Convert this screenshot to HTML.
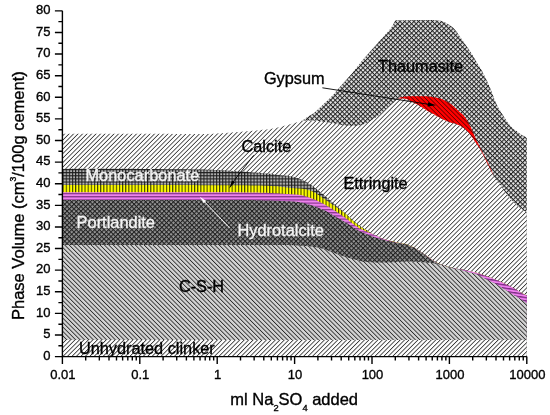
<!DOCTYPE html>
<html><head><meta charset="utf-8"><style>
html,body{margin:0;padding:0;background:#fff;}
svg{display:block;}
text{font-family:"Liberation Sans",Arial,sans-serif;stroke-width:0.35px;paint-order:stroke;}
.k text,text.k{stroke:#000;}
.w text{stroke:#f4f4f4;}
</style></head><body>
<svg width="550" height="415" viewBox="0 0 550 415">
<defs>
<pattern id="pEtt" patternUnits="userSpaceOnUse" width="3.18" height="10" patternTransform="rotate(45)">
 <rect width="3.18" height="10" fill="#fff"/><rect width="0.82" height="10" fill="#353535"/></pattern>
<pattern id="pClk" patternUnits="userSpaceOnUse" width="3.15" height="10" patternTransform="rotate(45)">
 <rect width="3.15" height="10" fill="#fff"/><rect width="0.85" height="10" fill="#333"/></pattern>
<pattern id="pCsh" patternUnits="userSpaceOnUse" width="3.12" height="10" patternTransform="rotate(-45)">
 <rect width="3.12" height="10" fill="#d4d4d4"/><rect width="0.86" height="10" fill="#2a2a2a"/></pattern>
<pattern id="pPort" patternUnits="userSpaceOnUse" width="3.27" height="3.27" patternTransform="rotate(45)">
 <rect width="3.27" height="3.27" fill="#959595"/><rect width="1.05" height="3.27" fill="#202020"/><rect width="3.27" height="1.05" fill="#202020"/></pattern>
<pattern id="pThau" patternUnits="userSpaceOnUse" width="3.27" height="3.27" patternTransform="rotate(45)">
 <rect width="3.27" height="3.27" fill="#e4e4e4"/><rect width="1" height="3.27" fill="#222"/><rect width="3.27" height="1" fill="#222"/></pattern>
<pattern id="pMono" patternUnits="userSpaceOnUse" width="3.13" height="3.13">
 <rect width="3.13" height="3.13" fill="#b0b0b0"/><rect width="1.05" height="3.13" fill="#1e1e1e"/><rect width="3.13" height="1.05" fill="#1e1e1e"/></pattern>
<pattern id="pYel" patternUnits="userSpaceOnUse" width="3.13" height="10">
 <rect width="3.13" height="10" fill="#ffff00"/><rect width="1.1" height="10" fill="#3f3f00"/></pattern>
<pattern id="pPink" patternUnits="userSpaceOnUse" width="10" height="3.2" y="0.95">
 <rect width="10" height="3.2" fill="#ee82ee"/><rect width="10" height="1.2" fill="#84368a"/></pattern>
<pattern id="pGyp" patternUnits="userSpaceOnUse" width="3.12" height="10" patternTransform="rotate(-45)">
 <rect width="3.12" height="10" fill="#ff0000"/><rect width="0.68" height="10" fill="#4a0000"/></pattern>
<pattern id="pPinkR" patternUnits="userSpaceOnUse" width="10" height="3.2" patternTransform="rotate(8)">
 <rect width="10" height="3.2" fill="#f080f0"/><rect width="10" height="1.35" fill="#7a2c80"/></pattern>
</defs>
<path d="M301,356.6L301,121.2C301.67,120.8 303.6,119.7 305,118.8C306.4,117.9 307.82,116.87 309.4,115.8C310.98,114.73 312.5,114 314.5,112.4C316.5,110.8 319.27,108.17 321.4,106.2C323.53,104.23 325.4,102.43 327.3,100.6C329.2,98.77 330.57,97.62 332.8,95.2C335.03,92.78 337.58,89.62 340.7,86.1C343.82,82.58 348.1,78.12 351.5,74.1C354.9,70.08 357.92,65.85 361.1,62C364.28,58.15 367.82,54.18 370.6,51C373.38,47.82 375.87,45.05 377.8,42.9C379.73,40.75 380.75,39.7 382.2,38.1C383.65,36.5 385.07,34.93 386.5,33.3C387.93,31.67 389.6,29.92 390.8,28.3C392,26.68 392.95,24.93 393.7,23.6C394.45,22.27 395.03,20.85 395.3,20.3L395.3,20.3C400.17,20.25 417.2,19.95 424.5,20C431.8,20.05 435.45,20.07 439.1,20.6C442.75,21.13 444.33,22.22 446.4,23.2C448.47,24.18 449.97,25.28 451.5,26.5C453.03,27.72 453.72,28.13 455.6,30.5C457.48,32.87 460.4,37.28 462.8,40.7C465.2,44.12 467.78,47.58 470,51C472.22,54.42 474.05,57.78 476.1,61.2C478.15,64.62 480.42,68.08 482.3,71.5C484.18,74.92 485.88,78.45 487.4,81.7C488.92,84.95 489.85,87.2 491.4,91C492.95,94.8 494.37,99.85 496.7,104.5C499.03,109.15 502.87,115.05 505.4,118.9C507.93,122.75 509.85,125.43 511.9,127.6C513.95,129.77 515.65,130.45 517.7,131.9C519.75,133.35 522.68,135.33 524.2,136.3C525.72,137.27 526.37,137.47 526.8,137.7L526.8,356.6Z" fill="url(#pThau)"/>
<path d="M62.4,356.6L62.4,133.8C77,133.8 127.07,133.77 150,133.8C172.93,133.83 187.5,134.15 200,134C212.5,133.85 216.67,133.38 225,132.9C233.33,132.42 242.5,131.73 250,131.1C257.5,130.47 265,129.77 270,129.1C275,128.43 276.52,127.95 280,127.1C283.48,126.25 287.27,125.03 290.9,124C294.53,122.97 298.17,121.47 301.8,120.9C305.43,120.33 309.07,120.45 312.7,120.6C316.33,120.75 319.97,121.32 323.6,121.8C327.23,122.28 331.27,122.92 334.5,123.5C337.73,124.08 340.27,124.87 343,125.3C345.73,125.73 347.77,126.13 350.9,126.1C354.03,126.07 358.17,126.2 361.8,125.1C365.43,124 369.07,121.78 372.7,119.5C376.33,117.22 380.87,113.6 383.6,111.4C386.33,109.2 387.28,107.9 389.1,106.3C390.92,104.7 392.9,103.08 394.5,101.8C396.1,100.52 396.72,99.08 398.7,98.6C400.68,98.12 404.22,98.4 406.4,98.9C408.58,99.4 409.98,100.65 411.8,101.6C413.62,102.55 415.48,103.58 417.3,104.6C419.12,105.62 420.88,106.6 422.7,107.7C424.52,108.8 426.38,110.15 428.2,111.2C430.02,112.25 431.78,112.98 433.6,114C435.42,115.02 437.28,116.3 439.1,117.3C440.92,118.3 442.68,119.18 444.5,120C446.32,120.82 448.25,121.6 450,122.2C451.75,122.8 453.38,123.03 455,123.6C456.62,124.17 458.2,124.82 459.7,125.6C461.2,126.38 462.75,127.35 464,128.3C465.25,129.25 466.12,130.18 467.2,131.3C468.28,132.42 469.13,133.22 470.5,135C471.87,136.78 473.92,139.83 475.4,142C476.88,144.17 478.22,146.07 479.4,148C480.58,149.93 481.4,151.5 482.5,153.6C483.6,155.7 484.85,158.27 486,160.6C487.15,162.93 488.07,164.95 489.4,167.6C490.73,170.25 492.18,173.58 494,176.5C495.82,179.42 498.2,182.15 500.3,185.1C502.4,188.05 504.2,191.18 506.6,194.2C509,197.22 512.47,200.93 514.7,203.2C516.93,205.47 517.98,206.25 520,207.8C522.02,209.35 525.67,211.72 526.8,212.5L526.8,356.6Z" fill="url(#pEtt)"/>
<path d="M398,98.4L398,98.4C398.67,98.18 400.6,97.42 402,97.1C403.4,96.78 403.85,96.63 406.4,96.5C408.95,96.37 413.67,96.3 417.3,96.3C420.93,96.3 424.57,96.18 428.2,96.5C431.83,96.82 436.38,97.58 439.1,98.2C441.82,98.82 442.68,99.3 444.5,100.2C446.32,101.1 448.25,102.33 450,103.6C451.75,104.87 453.48,106.48 455,107.8C456.52,109.12 457.67,110.22 459.1,111.5C460.53,112.78 462.07,113.65 463.6,115.5C465.13,117.35 466.87,120.12 468.3,122.6C469.73,125.08 471.02,127.83 472.2,130.4C473.38,132.97 474.22,135.43 475.4,138C476.58,140.57 478,143.17 479.3,145.8C480.6,148.43 481.9,151.23 483.2,153.8C484.5,156.37 485.92,158.87 487.1,161.2C488.28,163.53 489.15,165.25 490.3,167.8C491.45,170.35 493.38,175.05 494,176.5L494,176.5C493.23,175.02 490.73,170.25 489.4,167.6C488.07,164.95 487.15,162.93 486,160.6C484.85,158.27 483.6,155.7 482.5,153.6C481.4,151.5 480.58,149.93 479.4,148C478.22,146.07 476.88,144.17 475.4,142C473.92,139.83 471.87,136.78 470.5,135C469.13,133.22 468.28,132.42 467.2,131.3C466.12,130.18 465.25,129.25 464,128.3C462.75,127.35 461.2,126.38 459.7,125.6C458.2,124.82 456.62,124.17 455,123.6C453.38,123.03 451.75,122.8 450,122.2C448.25,121.6 446.32,120.82 444.5,120C442.68,119.18 440.92,118.3 439.1,117.3C437.28,116.3 435.42,115.02 433.6,114C431.78,112.98 430.02,112.25 428.2,111.2C426.38,110.15 424.52,108.8 422.7,107.7C420.88,106.6 419.12,105.62 417.3,104.6C415.48,103.58 413.62,102.55 411.8,101.6C409.98,100.65 408.7,99.43 406.4,98.9C404.1,98.37 399.4,98.48 398,98.4Z" fill="url(#pGyp)"/>
<path d="M62.4,356.6L62.4,168.9C75.33,168.9 117.4,168.82 140,168.9C162.6,168.98 183.5,169.15 198,169.4C212.5,169.65 218.33,169.93 227,170.4C235.67,170.87 242.83,171.63 250,172.2C257.17,172.77 264.33,173.23 270,173.8C275.67,174.37 280,175.07 284,175.6C288,176.13 291,176.3 294,177C297,177.7 299.58,178.77 302,179.8C304.42,180.83 306.4,181.93 308.5,183.2C310.6,184.47 311.97,185.4 314.6,187.4C317.23,189.4 321.08,192.47 324.3,195.2C327.52,197.93 330.53,200.92 333.9,203.8C337.27,206.68 340.98,209.47 344.5,212.5C348.02,215.53 352.08,219.52 355,222C357.92,224.48 360,226.02 362,227.4C364,228.78 365.43,229.32 367,230.3C368.57,231.28 368.85,231.95 371.4,233.3C373.95,234.65 379.2,237.17 382.3,238.4C385.4,239.63 387.28,239.98 390,240.7C392.72,241.42 396.25,242.2 398.6,242.7C400.95,243.2 402.28,243.23 404.1,243.7C405.92,244.17 407.6,244.73 409.5,245.5C411.4,246.27 413.6,247.25 415.5,248.3C417.4,249.35 419.08,250.58 420.9,251.8C422.72,253.02 424.58,254.33 426.4,255.6C428.22,256.87 429.98,258.22 431.8,259.4C433.62,260.58 435.48,261.78 437.3,262.7C439.12,263.62 440.88,264.18 442.7,264.9C444.52,265.62 446.38,266.47 448.2,267C450.02,267.53 451.78,267.75 453.6,268.1C455.42,268.45 456.97,268.72 459.1,269.1C461.23,269.48 463.67,269.83 466.4,270.4C469.13,270.97 472.48,271.7 475.5,272.5C478.52,273.3 481.48,274.13 484.5,275.2C487.52,276.27 490.57,277.68 493.6,278.9C496.63,280.12 499.67,281.13 502.7,282.5C505.73,283.87 508.77,285.43 511.8,287.1C514.83,288.77 518.4,291.08 520.9,292.5C523.4,293.92 525.82,295.08 526.8,295.6L526.8,356.6Z" fill="url(#pMono)"/>
<path d="M62.4,356.6L62.4,185C75.33,185.02 107.73,185 140,185.1C172.27,185.2 231.25,185.17 256,185.6C280.75,186.03 281.17,187.2 288.5,187.7C295.83,188.2 296.92,188.25 300,188.6C303.08,188.95 304.57,189.13 307,189.8C309.43,190.47 311.72,191.07 314.6,192.6C317.48,194.13 321.08,196.85 324.3,199C327.52,201.15 330.53,203.17 333.9,205.5C337.27,207.83 340.98,210.15 344.5,213C348.02,215.85 352.08,220.13 355,222.6C357.92,225.07 360,226.48 362,227.8C364,229.12 365.43,229.57 367,230.5C368.57,231.43 368.85,232.07 371.4,233.4C373.95,234.73 379.2,237.27 382.3,238.5C385.4,239.73 387.28,240.08 390,240.8C392.72,241.52 396.25,242.3 398.6,242.8C400.95,243.3 402.28,243.33 404.1,243.8C405.92,244.27 407.6,244.83 409.5,245.6C411.4,246.37 413.6,247.35 415.5,248.4C417.4,249.45 419.08,250.68 420.9,251.9C422.72,253.12 424.58,254.43 426.4,255.7C428.22,256.97 429.98,258.32 431.8,259.5C433.62,260.68 435.48,261.88 437.3,262.8C439.12,263.72 440.88,264.28 442.7,265C444.52,265.72 446.38,266.57 448.2,267.1C450.02,267.63 451.78,267.85 453.6,268.2C455.42,268.55 456.97,268.82 459.1,269.2C461.23,269.58 463.67,269.93 466.4,270.5C469.13,271.07 472.48,271.8 475.5,272.6C478.52,273.4 481.48,274.23 484.5,275.3C487.52,276.37 490.57,277.78 493.6,279C496.63,280.22 499.67,281.23 502.7,282.6C505.73,283.97 508.77,285.53 511.8,287.2C514.83,288.87 518.4,291.18 520.9,292.6C523.4,294.02 525.82,295.18 526.8,295.7L526.8,356.6Z" fill="url(#pYel)"/>
<path d="M62.4,356.6L62.4,192.2C75.33,192.2 108.73,192.17 140,192.2C171.27,192.23 225.25,192.1 250,192.4C274.75,192.7 280.17,193.57 288.5,194C296.83,194.43 296.92,194.53 300,195C303.08,195.47 304.57,196.03 307,196.8C309.43,197.57 311.72,198.35 314.6,199.6C317.48,200.85 321.08,202.57 324.3,204.3C327.52,206.03 330.53,207.85 333.9,210C337.27,212.15 340.98,214.67 344.5,217.2C348.02,219.73 352.08,223.13 355,225.2C357.92,227.27 359.27,228.2 362,229.6C364.73,231 368.02,232.1 371.4,233.6C374.78,235.1 379.2,237.38 382.3,238.6C385.4,239.82 387.28,240.18 390,240.9C392.72,241.62 396.25,242.4 398.6,242.9C400.95,243.4 402.28,243.43 404.1,243.9C405.92,244.37 407.6,244.93 409.5,245.7C411.4,246.47 413.6,247.45 415.5,248.5C417.4,249.55 419.08,250.78 420.9,252C422.72,253.22 424.58,254.53 426.4,255.8C428.22,257.07 429.98,258.42 431.8,259.6C433.62,260.78 435.48,261.98 437.3,262.9C439.12,263.82 440.88,264.38 442.7,265.1C444.52,265.82 446.38,266.67 448.2,267.2C450.02,267.73 451.78,267.95 453.6,268.3C455.42,268.65 456.97,268.92 459.1,269.3C461.23,269.68 463.67,270.03 466.4,270.6C469.13,271.17 472.48,271.9 475.5,272.7C478.52,273.5 481.48,274.33 484.5,275.4C487.52,276.47 490.57,277.88 493.6,279.1C496.63,280.32 499.67,281.33 502.7,282.7C505.73,284.07 508.77,285.63 511.8,287.3C514.83,288.97 518.4,291.28 520.9,292.7C523.4,294.12 525.82,295.28 526.8,295.8L526.8,356.6Z" fill="url(#pPink)"/>
<path d="M448.2,356.6L448.2,267.2C449.1,267.38 451.78,267.95 453.6,268.3C455.42,268.65 456.97,268.92 459.1,269.3C461.23,269.68 463.67,270.03 466.4,270.6C469.13,271.17 472.48,271.9 475.5,272.7C478.52,273.5 481.48,274.33 484.5,275.4C487.52,276.47 490.57,277.88 493.6,279.1C496.63,280.32 499.67,281.33 502.7,282.7C505.73,284.07 508.77,285.63 511.8,287.3C514.83,288.97 518.4,291.28 520.9,292.7C523.4,294.12 525.82,295.28 526.8,295.8L526.8,356.6Z" fill="url(#pPinkR)"/>
<path d="M62.4,356.6L62.4,199.9C75.33,199.9 108.73,199.87 140,199.9C171.27,199.93 225.25,199.88 250,200.1C274.75,200.32 280.17,200.85 288.5,201.2C296.83,201.55 296.92,201.73 300,202.2C303.08,202.67 304.57,203.32 307,204C309.43,204.68 311.72,205.25 314.6,206.3C317.48,207.35 321.57,209.02 324.3,210.3C327.03,211.58 327.63,212.08 331,214C334.37,215.92 340.5,219.38 344.5,221.8C348.5,224.22 352.08,226.75 355,228.5C357.92,230.25 359.27,231.05 362,232.3C364.73,233.55 368.02,234.78 371.4,236C374.78,237.22 379.2,238.7 382.3,239.6C385.4,240.5 387.28,240.83 390,241.4C392.72,241.97 396.25,242.57 398.6,243C400.95,243.43 402.28,243.53 404.1,244C405.92,244.47 407.6,245.03 409.5,245.8C411.4,246.57 413.6,247.55 415.5,248.6C417.4,249.65 419.08,250.88 420.9,252.1C422.72,253.32 424.58,254.63 426.4,255.9C428.22,257.17 429.98,258.52 431.8,259.7C433.62,260.88 435.48,262.08 437.3,263C439.12,263.92 440.88,264.48 442.7,265.2C444.52,265.92 446.38,266.77 448.2,267.3C450.02,267.83 451.78,268.03 453.6,268.4C455.42,268.77 456.97,268.97 459.1,269.5C461.23,270.03 463.67,270.85 466.4,271.6C469.13,272.35 473.05,273.2 475.5,274C477.95,274.8 479.18,275.43 481.1,276.4C483.02,277.37 485.15,278.82 487,279.8C488.85,280.78 490.6,281.53 492.2,282.3C493.8,283.07 494.25,283.02 496.6,284.4C498.95,285.78 503.08,288.62 506.3,290.6C509.52,292.58 513.47,294.83 515.9,296.3C518.33,297.77 519.08,298.25 520.9,299.4C522.72,300.55 525.82,302.57 526.8,303.2L526.8,356.6Z" fill="url(#pPort)"/>
<path d="M62.4,356.6L62.4,245C92,245 203.13,244.98 240,245C276.87,245.02 273.6,244.98 283.6,245.1C293.6,245.22 295.45,245.47 300,245.7C304.55,245.93 307.27,246.02 310.9,246.5C314.53,246.98 318.17,247.62 321.8,248.6C325.43,249.58 329.07,251.12 332.7,252.4C336.33,253.68 339.97,255.12 343.6,256.3C347.23,257.48 351.43,258.65 354.5,259.5C357.57,260.35 359.08,260.95 362,261.4C364.92,261.85 368.33,262.03 372,262.2C375.67,262.37 379.67,262.45 384,262.4C388.33,262.35 393.67,262.07 398,261.9C402.33,261.73 406.18,261.4 410,261.4C413.82,261.4 417.27,261.63 420.9,261.9C424.53,262.17 428.17,262.45 431.8,263C435.43,263.55 439.97,264.48 442.7,265.2C445.43,265.92 446.38,266.77 448.2,267.3C450.02,267.83 451.78,268.03 453.6,268.4C455.42,268.77 456.97,268.97 459.1,269.5C461.23,270.03 463.67,270.85 466.4,271.6C469.13,272.35 473.05,273.2 475.5,274C477.95,274.8 479.18,275.43 481.1,276.4C483.02,277.37 485.15,278.82 487,279.8C488.85,280.78 490.6,281.53 492.2,282.3C493.8,283.07 494.25,283.02 496.6,284.4C498.95,285.78 503.08,288.62 506.3,290.6C509.52,292.58 513.47,294.83 515.9,296.3C518.33,297.77 519.08,298.25 520.9,299.4C522.72,300.55 525.82,302.57 526.8,303.2L526.8,356.6Z" fill="url(#pCsh)"/>
<path d="M62.4,340H526.8V356.6H62.4Z" fill="url(#pClk)"/>
<!-- axes -->
<path d="M62.4,10.85V356.6H526.8" fill="none" stroke="#000" stroke-width="1.4"/>
<path d="M54.9,356.6H62.4M54.9,334.99H62.4M54.9,313.38H62.4M54.9,291.77H62.4M54.9,270.16H62.4M54.9,248.55H62.4M54.9,226.94H62.4M54.9,205.33H62.4M54.9,183.73H62.4M54.9,162.12H62.4M54.9,140.51H62.4M54.9,118.9H62.4M54.9,97.29H62.4M54.9,75.68H62.4M54.9,54.07H62.4M54.9,32.46H62.4M54.9,10.85H62.4M58.4,345.8H62.4M58.4,324.19H62.4M58.4,302.58H62.4M58.4,280.97H62.4M58.4,259.36H62.4M58.4,237.75H62.4M58.4,216.14H62.4M58.4,194.53H62.4M58.4,172.92H62.4M58.4,151.31H62.4M58.4,129.7H62.4M58.4,108.09H62.4M58.4,86.48H62.4M58.4,64.87H62.4M58.4,43.26H62.4M58.4,21.65H62.4M62.4,356.6V364.1M85.7,356.6V360.6M99.33,356.6V360.6M109,356.6V360.6M116.5,356.6V360.6M122.63,356.6V360.6M127.81,356.6V360.6M132.3,356.6V360.6M136.26,356.6V360.6M139.8,356.6V364.1M163.1,356.6V360.6M176.73,356.6V360.6M186.4,356.6V360.6M193.9,356.6V360.6M200.03,356.6V360.6M205.21,356.6V360.6M209.7,356.6V360.6M213.66,356.6V360.6M217.2,356.6V364.1M240.5,356.6V360.6M254.13,356.6V360.6M263.8,356.6V360.6M271.3,356.6V360.6M277.43,356.6V360.6M282.61,356.6V360.6M287.1,356.6V360.6M291.06,356.6V360.6M294.6,356.6V364.1M317.9,356.6V360.6M331.53,356.6V360.6M341.2,356.6V360.6M348.7,356.6V360.6M354.83,356.6V360.6M360.01,356.6V360.6M364.5,356.6V360.6M368.46,356.6V360.6M372,356.6V364.1M395.3,356.6V360.6M408.93,356.6V360.6M418.6,356.6V360.6M426.1,356.6V360.6M432.23,356.6V360.6M437.41,356.6V360.6M441.9,356.6V360.6M445.86,356.6V360.6M449.4,356.6V364.1M472.7,356.6V360.6M486.33,356.6V360.6M496,356.6V360.6M503.5,356.6V360.6M509.63,356.6V360.6M514.81,356.6V360.6M519.3,356.6V360.6M523.26,356.6V360.6M526.8,356.6V364.1" fill="none" stroke="#000" stroke-width="1.4"/>
<g class="k" font-size="13" text-anchor="end" fill="#000"><text x="50.4" y="359.9">0</text><text x="50.4" y="338.29">5</text><text x="50.4" y="316.68">10</text><text x="50.4" y="295.07">15</text><text x="50.4" y="273.46">20</text><text x="50.4" y="251.85">25</text><text x="50.4" y="230.24">30</text><text x="50.4" y="208.63">35</text><text x="50.4" y="187.03">40</text><text x="50.4" y="165.42">45</text><text x="50.4" y="143.81">50</text><text x="50.4" y="122.2">55</text><text x="50.4" y="100.59">60</text><text x="50.4" y="78.98">65</text><text x="50.4" y="57.37">70</text><text x="50.4" y="35.76">75</text><text x="50.4" y="14.15">80</text></g>
<g class="k" font-size="13" text-anchor="middle" fill="#000"><text x="62.9" y="378.8">0.01</text><text x="140.3" y="378.8">0.1</text><text x="217.7" y="378.8">1</text><text x="295.1" y="378.8">10</text><text x="372.5" y="378.8">100</text><text x="449.9" y="378.8">1000</text><text x="527.3" y="378.8">10000</text></g>
<!-- in-chart labels -->
<g class="k" font-size="16.3" fill="#000">
<text x="378" y="72.2">Thaumasite</text>
<text x="263.9" y="83.6">Gypsum</text>
<text x="241.5" y="151.9">Calcite</text>
<text x="343.4" y="188.5">Ettringite</text>
<text x="178.9" y="292">C-S-H</text>
<text x="79" y="354">Unhydrated clinker</text>
</g>
<g class="w" font-size="16.4" fill="#f4f4f4">
<text x="85.4" y="181.2">Monocarbonate</text>
<text x="76.6" y="228.4">Portlandite</text>
<text x="237.4" y="235.8">Hydrotalcite</text>
</g>
<!-- arrows -->
<path d="M322.4,87.8L428.5,104.3" stroke="#000" stroke-width="0.9" fill="none"/>
<path d="M436,105.3L428,102.3L427.6,106.6Z" fill="#000"/>
<path d="M253.7,155.3L233,182" stroke="#000" stroke-width="0.9" fill="none"/>
<path d="M229.2,188.6L232,180.6L234.8,182.2Z" fill="#000"/>
<path d="M229.5,227.8L204.5,201.7" stroke="#fff" stroke-width="0.9" fill="none"/>
<path d="M199.8,196.8L206.2,201.1L203.8,203.3Z" fill="#fff"/>
<!-- axis titles -->
<text class="k" x="230.3" y="404.6" font-size="16.5" fill="#000">ml Na<tspan font-size="9.3" dy="6.6">2</tspan><tspan dy="-6.6">SO</tspan><tspan font-size="9.3" dy="6.6">4</tspan><tspan dy="-6.6"> added</tspan></text>
<text class="k" transform="translate(23.8,320) rotate(-90)" font-size="16.5" fill="#000">Phase Volume (cm<tspan font-size="8.6" dy="-7.4">3</tspan><tspan dy="7.4">/100g cement)</tspan></text>
</svg>
</body></html>
